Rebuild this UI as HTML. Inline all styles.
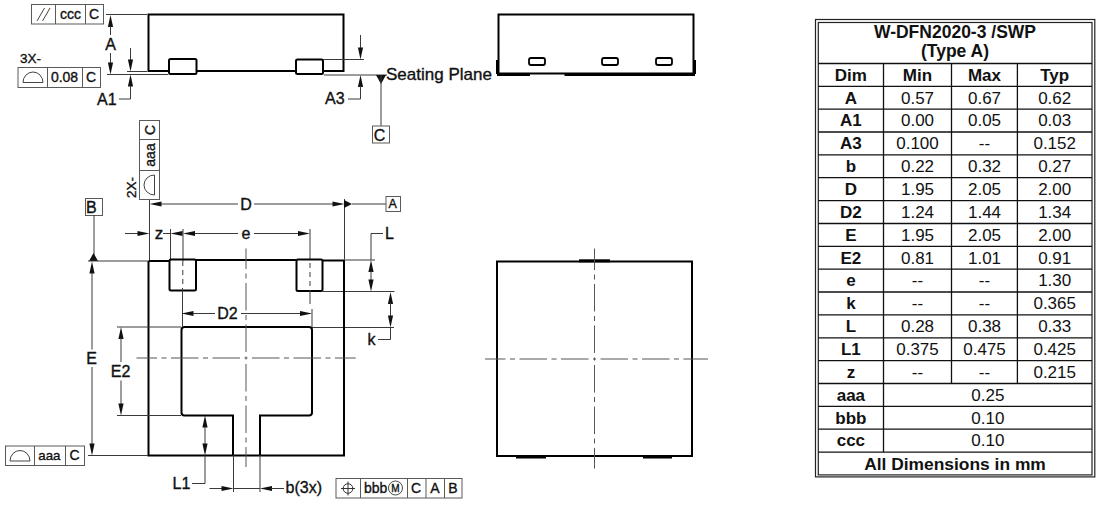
<!DOCTYPE html>
<html><head><meta charset="utf-8"><style>
html,body{margin:0;padding:0;background:#fff;width:1100px;height:505px;overflow:hidden}
svg{display:block;font-family:"Liberation Sans",sans-serif}
</style></head><body>
<svg width="1100" height="505" viewBox="0 0 1100 505">
<rect x="31.5" y="4.5" width="72" height="19.5" rx="0" fill="none" stroke="#5a5a5a" stroke-width="1"/>
<line x1="55.5" y1="4.5" x2="55.5" y2="24" stroke="#5a5a5a" stroke-width="1"/>
<line x1="85.5" y1="4.5" x2="85.5" y2="24" stroke="#5a5a5a" stroke-width="1"/>
<line x1="37" y1="21" x2="44.5" y2="8" stroke="#444" stroke-width="1"/>
<line x1="42.5" y1="21" x2="50" y2="8" stroke="#444" stroke-width="1"/>
<text x="70.5" y="19" font-size="14" text-anchor="middle" font-weight="normal" fill="#111" stroke="#111" stroke-width="0.35" >ccc</text>
<text x="94" y="19" font-size="14" text-anchor="middle" font-weight="normal" fill="#111" stroke="#111" stroke-width="0.35" >C</text>
<text x="20" y="62.5" font-size="13.5" text-anchor="start" font-weight="normal" fill="#111" stroke="#111" stroke-width="0.35" >3X-</text>
<rect x="18" y="67.5" width="82.5" height="20" rx="0" fill="none" stroke="#5a5a5a" stroke-width="1"/>
<line x1="47.5" y1="67.5" x2="47.5" y2="87.5" stroke="#5a5a5a" stroke-width="1"/>
<line x1="82.5" y1="67.5" x2="82.5" y2="87.5" stroke="#5a5a5a" stroke-width="1"/>
<path d="M23,82.5 A10,10.5 0 0 1 43,82.5 Z" stroke="#444" stroke-width="1" fill="none" />
<text x="64.5" y="82" font-size="14" text-anchor="middle" font-weight="normal" fill="#111" stroke="#111" stroke-width="0.35" >0.08</text>
<text x="91" y="82" font-size="14" text-anchor="middle" font-weight="normal" fill="#111" stroke="#111" stroke-width="0.35" >C</text>
<path d="M169,71 H148.5 V14.5 H343.5 V71 H323" stroke="#000" stroke-width="2" fill="none" />
<path d="M196.5,71 H296" stroke="#000" stroke-width="2" fill="none" />
<rect x="169" y="59" width="27.5" height="15" rx="1.5" fill="none" stroke="#000" stroke-width="2"/>
<rect x="296" y="59.5" width="27" height="14.5" rx="1.5" fill="none" stroke="#000" stroke-width="2"/>
<line x1="106" y1="14.5" x2="147" y2="14.5" stroke="#3a3a3a" stroke-width="1"/>
<line x1="107" y1="74.5" x2="168" y2="74.5" stroke="#3a3a3a" stroke-width="1"/>
<line x1="127" y1="71.5" x2="147" y2="71.5" stroke="#3a3a3a" stroke-width="1"/>
<polygon points="110.5,15 107.9,27 113.1,27" fill="#111"/>
<line x1="110.5" y1="26" x2="110.5" y2="35" stroke="#3a3a3a" stroke-width="1"/>
<text x="110.5" y="50" font-size="16" text-anchor="middle" font-weight="normal" fill="#111" stroke="#111" stroke-width="0.35" >A</text>
<line x1="110.5" y1="53" x2="110.5" y2="63" stroke="#3a3a3a" stroke-width="1"/>
<polygon points="110.5,74.5 107.9,62.5 113.1,62.5" fill="#111"/>
<line x1="130.5" y1="48" x2="130.5" y2="60" stroke="#3a3a3a" stroke-width="1"/>
<polygon points="130.5,71.5 127.9,59.5 133.1,59.5" fill="#111"/>
<polygon points="130.5,74.5 127.9,86.5 133.1,86.5" fill="#111"/>
<line x1="130.5" y1="86" x2="130.5" y2="99" stroke="#3a3a3a" stroke-width="1"/>
<line x1="119" y1="99" x2="130.5" y2="99" stroke="#3a3a3a" stroke-width="1"/>
<text x="97" y="104.5" font-size="16" text-anchor="start" font-weight="normal" fill="#111" stroke="#111" stroke-width="0.35" >A1</text>
<line x1="323" y1="59.5" x2="364" y2="59.5" stroke="#3a3a3a" stroke-width="1"/>
<line x1="360.5" y1="35" x2="360.5" y2="48" stroke="#3a3a3a" stroke-width="1"/>
<polygon points="360.5,59.5 357.9,47.5 363.1,47.5" fill="#111"/>
<polygon points="360.5,75 357.9,87 363.1,87" fill="#111"/>
<line x1="360.5" y1="86" x2="360.5" y2="99" stroke="#3a3a3a" stroke-width="1"/>
<line x1="348" y1="99" x2="360.5" y2="99" stroke="#3a3a3a" stroke-width="1"/>
<text x="325" y="104" font-size="16" text-anchor="start" font-weight="normal" fill="#111" stroke="#111" stroke-width="0.35" >A3</text>
<line x1="324" y1="75" x2="387" y2="75" stroke="#3a3a3a" stroke-width="1"/>
<polygon points="376,75 386,75 381,84" fill="#111"/>
<line x1="381" y1="75" x2="381" y2="126" stroke="#3a3a3a" stroke-width="1"/>
<rect x="372.5" y="126" width="17" height="17" rx="0" fill="none" stroke="#5a5a5a" stroke-width="1"/>
<text x="379.6" y="141.2" font-size="16" text-anchor="middle" font-weight="normal" fill="#111" stroke="#111" stroke-width="0.35" >C</text>
<text x="386" y="79.6" font-size="17" text-anchor="start" font-weight="normal" fill="#111" stroke="#111" stroke-width="0.35" >Seating Plane</text>
<path d="M498.5,73.5 V14.5 H693.5 V73.5 Z" stroke="#000" stroke-width="2" fill="none" />
<path d="M497,74.5 H530 M564.5,74.5 H695" stroke="#000" stroke-width="3" fill="none" />
<path d="M497.5,60 V74 M694.5,60 V74" stroke="#000" stroke-width="3" fill="none" />
<rect x="529" y="58" width="16" height="7" rx="2" fill="none" stroke="#000" stroke-width="1.8"/>
<rect x="602" y="58" width="16" height="7" rx="2" fill="none" stroke="#000" stroke-width="1.8"/>
<rect x="656" y="58" width="16" height="7" rx="2" fill="none" stroke="#000" stroke-width="1.8"/>
<rect x="139.5" y="120.5" width="20" height="79" rx="0" fill="none" stroke="#5a5a5a" stroke-width="1"/>
<line x1="139.5" y1="139.5" x2="159.5" y2="139.5" stroke="#5a5a5a" stroke-width="1"/>
<line x1="139.5" y1="170.5" x2="159.5" y2="170.5" stroke="#5a5a5a" stroke-width="1"/>
<text x="0" y="0" font-size="14" text-anchor="middle" fill="#111" stroke="#111" stroke-width="0.35" transform="translate(154.5,130) rotate(-90)">C</text>
<text x="0" y="0" font-size="14" text-anchor="middle" fill="#111" stroke="#111" stroke-width="0.35" transform="translate(154.5,155) rotate(-90)">aaa</text>
<path d="M154.5,175 A10.5,10 0 0 0 154.5,195 Z" stroke="#444" stroke-width="1" fill="none" />
<text x="0" y="0" font-size="13.5" text-anchor="middle" fill="#111" stroke="#111" stroke-width="0.35" transform="translate(135.5,187.5) rotate(-90)">2X-</text>
<rect x="85.5" y="198.5" width="17" height="17" rx="0" fill="none" stroke="#5a5a5a" stroke-width="1"/>
<text x="91.3" y="212.8" font-size="16" text-anchor="middle" font-weight="normal" fill="#111" stroke="#111" stroke-width="0.35" >B</text>
<line x1="94" y1="215.5" x2="94" y2="255" stroke="#3a3a3a" stroke-width="1"/>
<polygon points="89,261 98,261 93.5,253" fill="#111"/>
<line x1="149.5" y1="200" x2="149.5" y2="260" stroke="#3a3a3a" stroke-width="1"/>
<line x1="344.5" y1="199" x2="344.5" y2="259" stroke="#3a3a3a" stroke-width="1"/>
<polygon points="149.5,204 161.5,201.4 161.5,206.6" fill="#111"/>
<line x1="161" y1="204" x2="238" y2="204" stroke="#3a3a3a" stroke-width="1"/>
<text x="246" y="209.5" font-size="16" text-anchor="middle" font-weight="normal" fill="#111" stroke="#111" stroke-width="0.35" >D</text>
<line x1="254" y1="204" x2="333" y2="204" stroke="#3a3a3a" stroke-width="1"/>
<polygon points="344.5,204 332.5,201.4 332.5,206.6" fill="#111"/>
<polygon points="344,200 344,208 352,204" fill="#111"/>
<line x1="352" y1="204" x2="386" y2="204" stroke="#3a3a3a" stroke-width="1"/>
<rect x="386" y="196.5" width="14.5" height="15" rx="0" fill="none" stroke="#5a5a5a" stroke-width="1"/>
<text x="392.6" y="207.8" font-size="12.5" text-anchor="middle" font-weight="normal" fill="#111" stroke="#111" stroke-width="0.35" >A</text>
<line x1="170.5" y1="229" x2="170.5" y2="259" stroke="#3a3a3a" stroke-width="1"/>
<line x1="183" y1="229" x2="183" y2="261" stroke="#3a3a3a" stroke-width="1"/>
<line x1="310" y1="229" x2="310" y2="259" stroke="#3a3a3a" stroke-width="1"/>
<line x1="125" y1="233.5" x2="140" y2="233.5" stroke="#3a3a3a" stroke-width="1"/>
<polygon points="149.5,233.5 137.5,230.9 137.5,236.1" fill="#111"/>
<text x="159" y="239" font-size="17" text-anchor="middle" font-weight="normal" fill="#111" stroke="#111" stroke-width="0.35" >z</text>
<line x1="163" y1="233.5" x2="171" y2="233.5" stroke="#3a3a3a" stroke-width="1"/>
<polygon points="170.5,233.5 182.5,230.9 182.5,236.1" fill="#111"/>
<polygon points="183,233.5 195,230.9 195,236.1" fill="#111"/>
<line x1="195" y1="233.5" x2="238" y2="233.5" stroke="#3a3a3a" stroke-width="1"/>
<text x="246" y="238.5" font-size="16" text-anchor="middle" font-weight="normal" fill="#111" stroke="#111" stroke-width="0.35" >e</text>
<line x1="254" y1="233.5" x2="299" y2="233.5" stroke="#3a3a3a" stroke-width="1"/>
<polygon points="310,233.5 298,230.9 298,236.1" fill="#111"/>
<line x1="371" y1="233.5" x2="383" y2="233.5" stroke="#3a3a3a" stroke-width="1"/>
<text x="385" y="239" font-size="16" text-anchor="start" font-weight="normal" fill="#111" stroke="#111" stroke-width="0.35" >L</text>
<line x1="344.5" y1="260" x2="375" y2="260" stroke="#3a3a3a" stroke-width="1"/>
<line x1="371" y1="233.5" x2="371" y2="260" stroke="#3a3a3a" stroke-width="1"/>
<polygon points="371,260 368.4,272 373.6,272" fill="#111"/>
<line x1="371" y1="271" x2="371" y2="281" stroke="#3a3a3a" stroke-width="1"/>
<polygon points="371,291.5 368.4,279.5 373.6,279.5" fill="#111"/>
<line x1="323" y1="291.5" x2="394.5" y2="291.5" stroke="#3a3a3a" stroke-width="1"/>
<polygon points="390.5,292 387.9,304 393.1,304" fill="#111"/>
<line x1="390.5" y1="303" x2="390.5" y2="316" stroke="#3a3a3a" stroke-width="1"/>
<polygon points="390.5,327.5 387.9,315.5 393.1,315.5" fill="#111"/>
<line x1="312" y1="327.5" x2="394" y2="327.5" stroke="#3a3a3a" stroke-width="1"/>
<line x1="390.5" y1="327.5" x2="390.5" y2="339.5" stroke="#3a3a3a" stroke-width="1"/>
<line x1="378" y1="339.5" x2="390.5" y2="339.5" stroke="#3a3a3a" stroke-width="1"/>
<text x="371.5" y="345" font-size="16" text-anchor="middle" font-weight="normal" fill="#111" stroke="#111" stroke-width="0.35" >k</text>
<path d="M148.5,261 V455.5 H344 V260.5 H323" stroke="#000" stroke-width="2" fill="none" />
<path d="M169.5,261 H148.5" stroke="#000" stroke-width="2" fill="none" />
<path d="M196,260 H296.5" stroke="#000" stroke-width="2" fill="none" />
<rect x="169.5" y="259.5" width="26.5" height="31" rx="1.5" fill="none" stroke="#000" stroke-width="2"/>
<rect x="296.5" y="259.5" width="26" height="31.5" rx="1.5" fill="none" stroke="#000" stroke-width="2"/>
<path d="M260,455.5 V415.5 H309 Q312,415.5 312,412.5 V330 Q312,327 309,327 H184.5 Q181.5,327 181.5,330 V412.5 Q181.5,415.5 184.5,415.5 H233 V455.5" stroke="#000" stroke-width="2" fill="none" />
<line x1="246" y1="356.5" x2="246" y2="359.5" stroke="#555" stroke-width="1"/>
<line x1="246" y1="364" x2="246" y2="391.5" stroke="#555" stroke-width="1"/>
<line x1="246" y1="396.0" x2="246" y2="401.0" stroke="#555" stroke-width="1"/>
<line x1="246" y1="405.5" x2="246" y2="433.0" stroke="#555" stroke-width="1"/>
<line x1="246" y1="437.5" x2="246" y2="442.5" stroke="#555" stroke-width="1"/>
<line x1="246" y1="447.0" x2="246" y2="467" stroke="#555" stroke-width="1"/>
<line x1="246" y1="324.5" x2="246" y2="352" stroke="#555" stroke-width="1"/>
<line x1="246" y1="315.0" x2="246" y2="320.0" stroke="#555" stroke-width="1"/>
<line x1="246" y1="283.0" x2="246" y2="310.5" stroke="#555" stroke-width="1"/>
<line x1="246" y1="273.5" x2="246" y2="278.5" stroke="#555" stroke-width="1"/>
<line x1="246" y1="248.5" x2="246" y2="269.0" stroke="#555" stroke-width="1"/>
<line x1="244.5" y1="358" x2="247.5" y2="358" stroke="#555" stroke-width="1"/>
<line x1="252" y1="358" x2="279.5" y2="358" stroke="#555" stroke-width="1"/>
<line x1="284.0" y1="358" x2="289.0" y2="358" stroke="#555" stroke-width="1"/>
<line x1="293.5" y1="358" x2="321.0" y2="358" stroke="#555" stroke-width="1"/>
<line x1="325.5" y1="358" x2="330.5" y2="358" stroke="#555" stroke-width="1"/>
<line x1="335.0" y1="358" x2="355.7" y2="358" stroke="#555" stroke-width="1"/>
<line x1="212.5" y1="358" x2="240" y2="358" stroke="#555" stroke-width="1"/>
<line x1="203.0" y1="358" x2="208.0" y2="358" stroke="#555" stroke-width="1"/>
<line x1="171.0" y1="358" x2="198.5" y2="358" stroke="#555" stroke-width="1"/>
<line x1="161.5" y1="358" x2="166.5" y2="358" stroke="#555" stroke-width="1"/>
<line x1="136.5" y1="358" x2="157.0" y2="358" stroke="#555" stroke-width="1"/>
<line x1="182.8" y1="261" x2="182.8" y2="266" stroke="#3a3a3a" stroke-width="1"/>
<line x1="182.8" y1="270" x2="182.8" y2="275" stroke="#3a3a3a" stroke-width="1"/>
<line x1="182.8" y1="279" x2="182.8" y2="284" stroke="#3a3a3a" stroke-width="1"/>
<line x1="182.5" y1="288" x2="182.5" y2="327" stroke="#3a3a3a" stroke-width="1"/>
<line x1="310" y1="263" x2="310" y2="268" stroke="#3a3a3a" stroke-width="1"/>
<line x1="310" y1="272" x2="310" y2="277" stroke="#3a3a3a" stroke-width="1"/>
<line x1="310" y1="281" x2="310" y2="286" stroke="#3a3a3a" stroke-width="1"/>
<line x1="310" y1="290" x2="310" y2="304" stroke="#3a3a3a" stroke-width="1"/>
<line x1="312" y1="309" x2="312" y2="327" stroke="#3a3a3a" stroke-width="1"/>
<polygon points="181.5,313.5 193.5,310.9 193.5,316.1" fill="#111"/>
<line x1="193" y1="313.5" x2="215" y2="313.5" stroke="#3a3a3a" stroke-width="1"/>
<text x="227.5" y="319" font-size="16" text-anchor="middle" font-weight="normal" fill="#111" stroke="#111" stroke-width="0.35" >D2</text>
<line x1="241" y1="313.5" x2="301" y2="313.5" stroke="#3a3a3a" stroke-width="1"/>
<polygon points="312,313.5 300,310.9 300,316.1" fill="#111"/>
<line x1="88" y1="261" x2="148" y2="261" stroke="#3a3a3a" stroke-width="1"/>
<polygon points="92,261.5 89.4,273.5 94.6,273.5" fill="#111"/>
<line x1="92" y1="273" x2="92" y2="349.5" stroke="#3a3a3a" stroke-width="1"/>
<text x="91.5" y="364" font-size="16" text-anchor="middle" font-weight="normal" fill="#111" stroke="#111" stroke-width="0.35" >E</text>
<line x1="92" y1="367" x2="92" y2="444" stroke="#3a3a3a" stroke-width="1"/>
<polygon points="92,455.5 89.4,443.5 94.6,443.5" fill="#111"/>
<line x1="88" y1="455.5" x2="148" y2="455.5" stroke="#3a3a3a" stroke-width="1"/>
<line x1="117" y1="327" x2="181" y2="327" stroke="#3a3a3a" stroke-width="1"/>
<polygon points="121,327 118.4,339 123.6,339" fill="#111"/>
<line x1="121" y1="338" x2="121" y2="362" stroke="#3a3a3a" stroke-width="1"/>
<text x="120.5" y="377" font-size="16" text-anchor="middle" font-weight="normal" fill="#111" stroke="#111" stroke-width="0.35" >E2</text>
<line x1="121" y1="380.5" x2="121" y2="404" stroke="#3a3a3a" stroke-width="1"/>
<polygon points="121,415.5 118.4,403.5 123.6,403.5" fill="#111"/>
<line x1="117" y1="415.5" x2="181" y2="415.5" stroke="#3a3a3a" stroke-width="1"/>
<rect x="5.5" y="446" width="79" height="19.5" rx="0" fill="none" stroke="#5a5a5a" stroke-width="1"/>
<line x1="34.5" y1="446" x2="34.5" y2="465.5" stroke="#5a5a5a" stroke-width="1"/>
<line x1="65.5" y1="446" x2="65.5" y2="465.5" stroke="#5a5a5a" stroke-width="1"/>
<path d="M10,461 A10,10.5 0 0 1 30,461 Z" stroke="#444" stroke-width="1" fill="none" />
<text x="49.4" y="460.3" font-size="13.3" text-anchor="middle" font-weight="normal" fill="#111" stroke="#111" stroke-width="0.35" >aaa</text>
<text x="74.5" y="459.9" font-size="14" text-anchor="middle" font-weight="normal" fill="#111" stroke="#111" stroke-width="0.35" >C</text>
<polygon points="205,415.5 202.4,427.5 207.6,427.5" fill="#111"/>
<line x1="205" y1="427" x2="205" y2="444" stroke="#3a3a3a" stroke-width="1"/>
<polygon points="205,455.5 202.4,443.5 207.6,443.5" fill="#111"/>
<line x1="205" y1="455.5" x2="205" y2="483.5" stroke="#3a3a3a" stroke-width="1"/>
<line x1="192" y1="483.5" x2="205" y2="483.5" stroke="#3a3a3a" stroke-width="1"/>
<text x="172.5" y="488.5" font-size="16" text-anchor="start" font-weight="normal" fill="#111" stroke="#111" stroke-width="0.35" >L1</text>
<line x1="233.5" y1="455" x2="233.5" y2="492" stroke="#3a3a3a" stroke-width="1"/>
<line x1="260" y1="455" x2="260" y2="492" stroke="#3a3a3a" stroke-width="1"/>
<line x1="209.5" y1="488.5" x2="222" y2="488.5" stroke="#3a3a3a" stroke-width="1"/>
<polygon points="233.5,488.5 221.5,485.9 221.5,491.1" fill="#111"/>
<line x1="233.5" y1="488.5" x2="260" y2="488.5" stroke="#3a3a3a" stroke-width="1"/>
<polygon points="260,488.5 272,485.9 272,491.1" fill="#111"/>
<line x1="271" y1="488.5" x2="284" y2="488.5" stroke="#3a3a3a" stroke-width="1"/>
<text x="285.5" y="493" font-size="16" text-anchor="start" font-weight="normal" fill="#111" stroke="#111" stroke-width="0.35" >b(3x)</text>
<rect x="336" y="478.5" width="126" height="19.5" rx="0" fill="none" stroke="#5a5a5a" stroke-width="1"/>
<line x1="360.5" y1="478.5" x2="360.5" y2="498" stroke="#5a5a5a" stroke-width="1"/>
<line x1="407.5" y1="478.5" x2="407.5" y2="498" stroke="#5a5a5a" stroke-width="1"/>
<line x1="426" y1="478.5" x2="426" y2="498" stroke="#5a5a5a" stroke-width="1"/>
<line x1="444.5" y1="478.5" x2="444.5" y2="498" stroke="#5a5a5a" stroke-width="1"/>
<circle cx="348" cy="488.5" r="4.8" fill="none" stroke="#333" stroke-width="1"/>
<line x1="341" y1="488.5" x2="355" y2="488.5" stroke="#333" stroke-width="1"/>
<line x1="348" y1="481.5" x2="348" y2="495.5" stroke="#333" stroke-width="1"/>
<text x="364" y="493" font-size="14" text-anchor="start" font-weight="normal" fill="#111" stroke="#111" stroke-width="0.35" >bbb</text>
<circle cx="395.5" cy="488" r="7" fill="none" stroke="#333" stroke-width="0.9"/>
<text x="395.5" y="492" font-size="10" text-anchor="middle" font-weight="normal" fill="#111" stroke="#111" stroke-width="0.35" font-weight="normal">M</text>
<text x="416" y="493" font-size="14" text-anchor="middle" font-weight="normal" fill="#111" stroke="#111" stroke-width="0.35" >C</text>
<text x="435" y="493" font-size="14" text-anchor="middle" font-weight="normal" fill="#111" stroke="#111" stroke-width="0.35" >A</text>
<text x="453" y="493" font-size="14" text-anchor="middle" font-weight="normal" fill="#111" stroke="#111" stroke-width="0.35" >B</text>
<path d="M497,261.5 V456 H692 V261.5 Z" stroke="#000" stroke-width="2" fill="none" />
<path d="M579,260.8 H610" stroke="#000" stroke-width="3" fill="none" />
<path d="M516,457 H546 M643,457 H672" stroke="#000" stroke-width="3" fill="none" />
<line x1="594.5" y1="357.5" x2="594.5" y2="360.5" stroke="#555" stroke-width="1"/>
<line x1="594.5" y1="365" x2="594.5" y2="392.5" stroke="#555" stroke-width="1"/>
<line x1="594.5" y1="397.0" x2="594.5" y2="402.0" stroke="#555" stroke-width="1"/>
<line x1="594.5" y1="406.5" x2="594.5" y2="434.0" stroke="#555" stroke-width="1"/>
<line x1="594.5" y1="438.5" x2="594.5" y2="443.5" stroke="#555" stroke-width="1"/>
<line x1="594.5" y1="448.0" x2="594.5" y2="468.5" stroke="#555" stroke-width="1"/>
<line x1="594.5" y1="325.5" x2="594.5" y2="353" stroke="#555" stroke-width="1"/>
<line x1="594.5" y1="316.0" x2="594.5" y2="321.0" stroke="#555" stroke-width="1"/>
<line x1="594.5" y1="284.0" x2="594.5" y2="311.5" stroke="#555" stroke-width="1"/>
<line x1="594.5" y1="274.5" x2="594.5" y2="279.5" stroke="#555" stroke-width="1"/>
<line x1="594.5" y1="248.5" x2="594.5" y2="270.0" stroke="#555" stroke-width="1"/>
<line x1="593.0" y1="359" x2="596.0" y2="359" stroke="#555" stroke-width="1"/>
<line x1="600.5" y1="359" x2="628.0" y2="359" stroke="#555" stroke-width="1"/>
<line x1="632.5" y1="359" x2="637.5" y2="359" stroke="#555" stroke-width="1"/>
<line x1="642.0" y1="359" x2="669.5" y2="359" stroke="#555" stroke-width="1"/>
<line x1="674.0" y1="359" x2="679.0" y2="359" stroke="#555" stroke-width="1"/>
<line x1="683.5" y1="359" x2="708" y2="359" stroke="#555" stroke-width="1"/>
<line x1="561.0" y1="359" x2="588.5" y2="359" stroke="#555" stroke-width="1"/>
<line x1="551.5" y1="359" x2="556.5" y2="359" stroke="#555" stroke-width="1"/>
<line x1="519.5" y1="359" x2="547.0" y2="359" stroke="#555" stroke-width="1"/>
<line x1="510.0" y1="359" x2="515.0" y2="359" stroke="#555" stroke-width="1"/>
<line x1="485" y1="359" x2="505.5" y2="359" stroke="#555" stroke-width="1"/>
<rect x="815.5" y="19.5" width="279.3" height="457.4" fill="none" stroke="#222" stroke-width="1.2"/>
<rect x="818.3" y="22.5" width="273.70000000000005" height="452.4" fill="none" stroke="#222" stroke-width="1.2"/>
<line x1="818.3" y1="63.5" x2="1092" y2="63.5" stroke="#111" stroke-width="1.3"/>
<line x1="818.3" y1="86.3" x2="1092" y2="86.3" stroke="#111" stroke-width="1.3"/>
<line x1="818.3" y1="109.2" x2="1092" y2="109.2" stroke="#111" stroke-width="1.3"/>
<line x1="818.3" y1="132.0" x2="1092" y2="132.0" stroke="#111" stroke-width="1.3"/>
<line x1="818.3" y1="154.9" x2="1092" y2="154.9" stroke="#111" stroke-width="1.3"/>
<line x1="818.3" y1="177.7" x2="1092" y2="177.7" stroke="#111" stroke-width="1.3"/>
<line x1="818.3" y1="200.6" x2="1092" y2="200.6" stroke="#111" stroke-width="1.3"/>
<line x1="818.3" y1="223.5" x2="1092" y2="223.5" stroke="#111" stroke-width="1.3"/>
<line x1="818.3" y1="246.3" x2="1092" y2="246.3" stroke="#111" stroke-width="1.3"/>
<line x1="818.3" y1="269.2" x2="1092" y2="269.2" stroke="#111" stroke-width="1.3"/>
<line x1="818.3" y1="292.0" x2="1092" y2="292.0" stroke="#111" stroke-width="1.3"/>
<line x1="818.3" y1="314.9" x2="1092" y2="314.9" stroke="#111" stroke-width="1.3"/>
<line x1="818.3" y1="337.8" x2="1092" y2="337.8" stroke="#111" stroke-width="1.3"/>
<line x1="818.3" y1="360.6" x2="1092" y2="360.6" stroke="#111" stroke-width="1.3"/>
<line x1="818.3" y1="383.5" x2="1092" y2="383.5" stroke="#111" stroke-width="1.3"/>
<line x1="818.3" y1="406.3" x2="1092" y2="406.3" stroke="#111" stroke-width="1.3"/>
<line x1="818.3" y1="429.2" x2="1092" y2="429.2" stroke="#111" stroke-width="1.3"/>
<line x1="818.3" y1="452.1" x2="1092" y2="452.1" stroke="#111" stroke-width="1.3"/>
<line x1="883.5" y1="63.5" x2="883.5" y2="452" stroke="#111" stroke-width="1.3"/>
<line x1="951.5" y1="63.5" x2="951.5" y2="383.6" stroke="#111" stroke-width="1.3"/>
<line x1="1017.4" y1="63.5" x2="1017.4" y2="383.6" stroke="#111" stroke-width="1.3"/>
<text x="955" y="38" font-size="17.5" text-anchor="middle" font-weight="bold" fill="#111"  >W-DFN2020-3 /SWP</text>
<text x="955" y="57.4" font-size="17.5" text-anchor="middle" font-weight="bold" fill="#111"  >(Type A)</text>
<text x="850.9" y="80.6" font-size="17" text-anchor="middle" font-weight="bold" fill="#111"  >Dim</text>
<text x="917.5" y="80.6" font-size="17" text-anchor="middle" font-weight="bold" fill="#111"  >Min</text>
<text x="984.5" y="80.6" font-size="17" text-anchor="middle" font-weight="bold" fill="#111"  >Max</text>
<text x="1054.7" y="80.6" font-size="17" text-anchor="middle" font-weight="bold" fill="#111"  >Typ</text>
<text x="850.9" y="103.5" font-size="17" text-anchor="middle" font-weight="bold" fill="#111"  >A</text>
<text x="917.5" y="103.5" font-size="17" text-anchor="middle" font-weight="normal" fill="#111"  >0.57</text>
<text x="984.5" y="103.5" font-size="17" text-anchor="middle" font-weight="normal" fill="#111"  >0.67</text>
<text x="1054.7" y="103.5" font-size="17" text-anchor="middle" font-weight="normal" fill="#111"  >0.62</text>
<text x="850.9" y="126.4" font-size="17" text-anchor="middle" font-weight="bold" fill="#111"  >A1</text>
<text x="917.5" y="126.4" font-size="17" text-anchor="middle" font-weight="normal" fill="#111"  >0.00</text>
<text x="984.5" y="126.4" font-size="17" text-anchor="middle" font-weight="normal" fill="#111"  >0.05</text>
<text x="1054.7" y="126.4" font-size="17" text-anchor="middle" font-weight="normal" fill="#111"  >0.03</text>
<text x="850.9" y="149.2" font-size="17" text-anchor="middle" font-weight="bold" fill="#111"  >A3</text>
<text x="917.5" y="149.2" font-size="17" text-anchor="middle" font-weight="normal" fill="#111"  >0.100</text>
<text x="984.5" y="149.2" font-size="17" text-anchor="middle" font-weight="normal" fill="#111"  >--</text>
<text x="1054.7" y="149.2" font-size="17" text-anchor="middle" font-weight="normal" fill="#111"  >0.152</text>
<text x="850.9" y="172.1" font-size="17" text-anchor="middle" font-weight="bold" fill="#111"  >b</text>
<text x="917.5" y="172.1" font-size="17" text-anchor="middle" font-weight="normal" fill="#111"  >0.22</text>
<text x="984.5" y="172.1" font-size="17" text-anchor="middle" font-weight="normal" fill="#111"  >0.32</text>
<text x="1054.7" y="172.1" font-size="17" text-anchor="middle" font-weight="normal" fill="#111"  >0.27</text>
<text x="850.9" y="194.9" font-size="17" text-anchor="middle" font-weight="bold" fill="#111"  >D</text>
<text x="917.5" y="194.9" font-size="17" text-anchor="middle" font-weight="normal" fill="#111"  >1.95</text>
<text x="984.5" y="194.9" font-size="17" text-anchor="middle" font-weight="normal" fill="#111"  >2.05</text>
<text x="1054.7" y="194.9" font-size="17" text-anchor="middle" font-weight="normal" fill="#111"  >2.00</text>
<text x="850.9" y="217.8" font-size="17" text-anchor="middle" font-weight="bold" fill="#111"  >D2</text>
<text x="917.5" y="217.8" font-size="17" text-anchor="middle" font-weight="normal" fill="#111"  >1.24</text>
<text x="984.5" y="217.8" font-size="17" text-anchor="middle" font-weight="normal" fill="#111"  >1.44</text>
<text x="1054.7" y="217.8" font-size="17" text-anchor="middle" font-weight="normal" fill="#111"  >1.34</text>
<text x="850.9" y="240.7" font-size="17" text-anchor="middle" font-weight="bold" fill="#111"  >E</text>
<text x="917.5" y="240.7" font-size="17" text-anchor="middle" font-weight="normal" fill="#111"  >1.95</text>
<text x="984.5" y="240.7" font-size="17" text-anchor="middle" font-weight="normal" fill="#111"  >2.05</text>
<text x="1054.7" y="240.7" font-size="17" text-anchor="middle" font-weight="normal" fill="#111"  >2.00</text>
<text x="850.9" y="263.5" font-size="17" text-anchor="middle" font-weight="bold" fill="#111"  >E2</text>
<text x="917.5" y="263.5" font-size="17" text-anchor="middle" font-weight="normal" fill="#111"  >0.81</text>
<text x="984.5" y="263.5" font-size="17" text-anchor="middle" font-weight="normal" fill="#111"  >1.01</text>
<text x="1054.7" y="263.5" font-size="17" text-anchor="middle" font-weight="normal" fill="#111"  >0.91</text>
<text x="850.9" y="286.4" font-size="17" text-anchor="middle" font-weight="bold" fill="#111"  >e</text>
<text x="917.5" y="286.4" font-size="17" text-anchor="middle" font-weight="normal" fill="#111"  >--</text>
<text x="984.5" y="286.4" font-size="17" text-anchor="middle" font-weight="normal" fill="#111"  >--</text>
<text x="1054.7" y="286.4" font-size="17" text-anchor="middle" font-weight="normal" fill="#111"  >1.30</text>
<text x="850.9" y="309.2" font-size="17" text-anchor="middle" font-weight="bold" fill="#111"  >k</text>
<text x="917.5" y="309.2" font-size="17" text-anchor="middle" font-weight="normal" fill="#111"  >--</text>
<text x="984.5" y="309.2" font-size="17" text-anchor="middle" font-weight="normal" fill="#111"  >--</text>
<text x="1054.7" y="309.2" font-size="17" text-anchor="middle" font-weight="normal" fill="#111"  >0.365</text>
<text x="850.9" y="332.1" font-size="17" text-anchor="middle" font-weight="bold" fill="#111"  >L</text>
<text x="917.5" y="332.1" font-size="17" text-anchor="middle" font-weight="normal" fill="#111"  >0.28</text>
<text x="984.5" y="332.1" font-size="17" text-anchor="middle" font-weight="normal" fill="#111"  >0.38</text>
<text x="1054.7" y="332.1" font-size="17" text-anchor="middle" font-weight="normal" fill="#111"  >0.33</text>
<text x="850.9" y="355.0" font-size="17" text-anchor="middle" font-weight="bold" fill="#111"  >L1</text>
<text x="917.5" y="355.0" font-size="17" text-anchor="middle" font-weight="normal" fill="#111"  >0.375</text>
<text x="984.5" y="355.0" font-size="17" text-anchor="middle" font-weight="normal" fill="#111"  >0.475</text>
<text x="1054.7" y="355.0" font-size="17" text-anchor="middle" font-weight="normal" fill="#111"  >0.425</text>
<text x="850.9" y="377.8" font-size="17" text-anchor="middle" font-weight="bold" fill="#111"  >z</text>
<text x="917.5" y="377.8" font-size="17" text-anchor="middle" font-weight="normal" fill="#111"  >--</text>
<text x="984.5" y="377.8" font-size="17" text-anchor="middle" font-weight="normal" fill="#111"  >--</text>
<text x="1054.7" y="377.8" font-size="17" text-anchor="middle" font-weight="normal" fill="#111"  >0.215</text>
<text x="850.9" y="400.7" font-size="17" text-anchor="middle" font-weight="bold" fill="#111"  >aaa</text>
<text x="987.8" y="400.7" font-size="17" text-anchor="middle" font-weight="normal" fill="#111"  >0.25</text>
<text x="850.9" y="423.5" font-size="17" text-anchor="middle" font-weight="bold" fill="#111"  >bbb</text>
<text x="987.8" y="423.5" font-size="17" text-anchor="middle" font-weight="normal" fill="#111"  >0.10</text>
<text x="850.9" y="446.4" font-size="17" text-anchor="middle" font-weight="bold" fill="#111"  >ccc</text>
<text x="987.8" y="446.4" font-size="17" text-anchor="middle" font-weight="normal" fill="#111"  >0.10</text>
<text x="955" y="469.5" font-size="17.4" text-anchor="middle" font-weight="bold" fill="#111"  >All Dimensions in mm</text>
</svg>
</body></html>
